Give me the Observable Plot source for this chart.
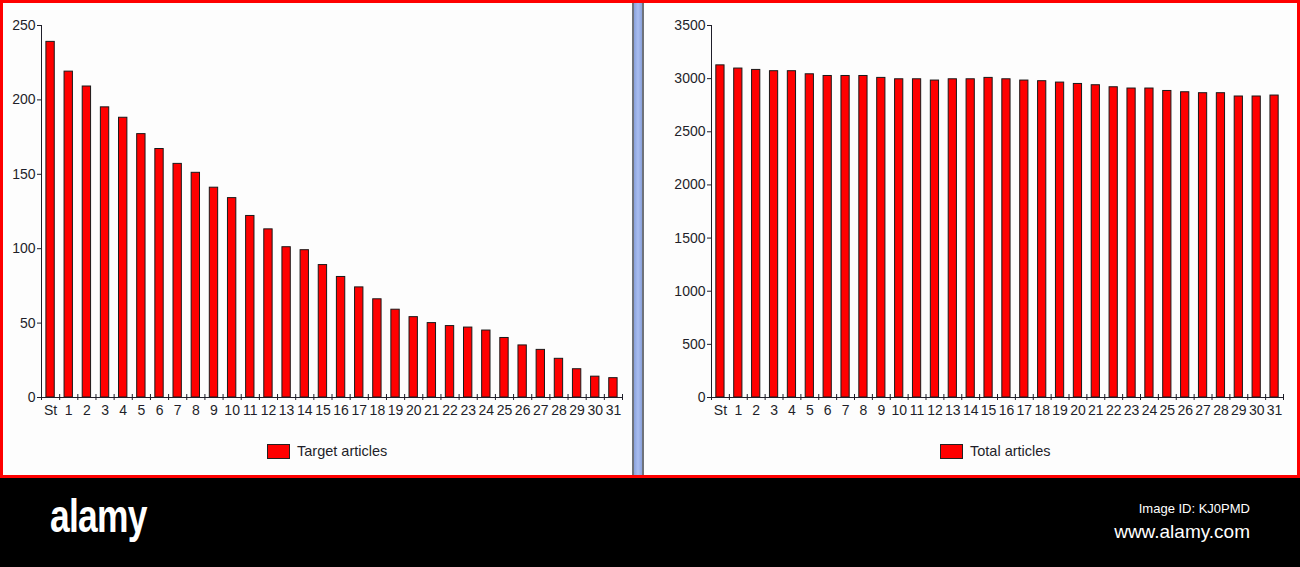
<!DOCTYPE html>
<html>
<head>
<meta charset="utf-8">
<script src="https://cdn.jsdelivr.net/npm/d3@7"></script>
<script src="https://cdn.jsdelivr.net/npm/@observablehq/plot@0.6"></script>
<style>
  html, body { margin: 0; padding: 0; background: #000; }
  #page { position: relative; width: 1300px; height: 567px; background: #000; overflow: hidden; font-family: "Liberation Sans", Arial, sans-serif; }
  #top { position: absolute; left: 0; top: 0; width: 1300px; height: 478px; background: #fdfdfd; }
  #frame { position: absolute; left: 0; top: 0; width: 1294px; height: 472px; border: 3px solid #ff0000; pointer-events: none; }
  #sep { position: absolute; left: 632px; top: 3px; width: 12px; height: 472px;
         background: linear-gradient(to right, #6f737b 0, #6f737b 2px, #8aa2dc 2px, #a9bdf0 6px, #8aa2dc 10px, #6f737b 10px, #6f737b 12px); }
  .chart { position: absolute; top: 0; }
  .legend { position: absolute; top: 443px; display: flex; align-items: center; font-size: 14.5px; color: #1f1f2a; }
  .sw { width: 21px; height: 13px; background: #ff0000; border: 1px solid #222; margin-right: 7px; }
  #logo { position: absolute; left: 50px; top: 493px; color: #fff; font-weight: bold; font-size: 46px; line-height: 1; letter-spacing: -1px; transform: scaleX(0.77); transform-origin: left top; }
  #imgid { position: absolute; right: 50px; top: 501px; color: #fff; font-size: 13px; font-family: "Liberation Sans Narrow", "Liberation Sans", Arial, sans-serif; }
  #www { position: absolute; right: 50px; top: 521px; color: #fff; font-size: 19px; font-family: "Liberation Sans Narrow", "Liberation Sans", Arial, sans-serif; }
</style>
</head>
<body>
<div id="page">
  <div id="top"></div>
  <div id="sep"></div>
  <div id="left" class="chart" style="left:0px"></div>
  <div id="right" class="chart" style="left:644px"></div>
  <div class="legend" style="left:267px"><div class="sw"></div><span>Target articles</span></div>
  <div class="legend" style="left:940px"><div class="sw"></div><span>Total articles</span></div>
  <div id="frame"></div>
  <div id="logo">alamy</div>
  <div id="imgid">Image ID: KJ0PMD</div>
  <div id="www">www.alamy.com</div>
</div>
<script>
const labels = ["St","1","2","3","4","5","6","7","8","9","10","11","12","13","14","15","16","17","18","19","20","21","22","23","24","25","26","27","28","29","30","31"];
const targetArticles = [239,219,209,195,188,177,167,157,151,141,134,122,113,101,99,89,81,74,66,59,54,50,48,47,45,40,35,32,26,19,14,13];
const totalArticles = [3125,3095,3082,3070,3070,3041,3025,3025,3025,3007,2994,2994,2982,2994,2994,3007,2994,2982,2976,2963,2950,2938,2919,2907,2907,2884,2872,2863,2863,2832,2832,2841];
const targetTicks = [0,50,100,150,200,250];
const totalTicks = [0,500,1000,1500,2000,2500,3000,3500];

function chart(values, yTicks, yMax, width, marginLeft, marginRight) {
  const n = labels.length;
  const data = values.map((v, i) => ({i, v, label: labels[i]}));
  return Plot.plot({
    width, height: 430,
    marginTop: 25, marginBottom: 33, marginLeft, marginRight,
    style: {fontSize: "14px", fontFamily: "'Liberation Sans', Arial, sans-serif", color: "#1f1f2a", background: "transparent"},
    x: {domain: [0, n], axis: null},
    y: {domain: [0, yMax], axis: null},
    marks: [
      Plot.rectY(data, {x1: d => d.i + 0.27, x2: d => d.i + 0.73, y: "v", fill: "#ff0000", stroke: "#1a1a1a", strokeWidth: 1}),
      Plot.ruleX([0], {stroke: "#1f1f2a"}),
      Plot.ruleY([0], {stroke: "#1f1f2a"}),
      Plot.axisY(yTicks, {tickSize: 4, tickPadding: 2, label: null, tickFormat: d => String(d), stroke: "#1f1f2a", strokeOpacity: 1}),
      Plot.axisX(d3.range(n + 1), {tickSize: 6, dy: -3, label: null, tickFormat: () => "", stroke: "#1f1f2a", strokeOpacity: 1}),
      Plot.axisX(d3.range(n).map(i => i + 0.5), {tickSize: 0, tickPadding: 8, label: null, tickFormat: v => labels[Math.floor(v)]})
    ]
  });
}

document.getElementById("left").append(chart(targetArticles, targetTicks, 250, 632, 41, 10));
document.getElementById("right").append(chart(totalArticles, totalTicks, 3500, 656, 67, 17));
</script>
</body>
</html>
